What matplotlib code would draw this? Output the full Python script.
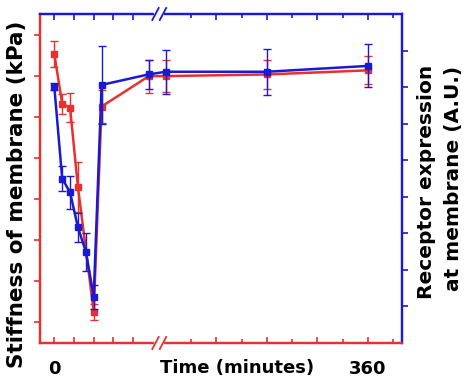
import numpy as np
import matplotlib
matplotlib.use('Agg')
import matplotlib.pyplot as plt
from matplotlib.ticker import FixedLocator, NullFormatter, FixedFormatter

######################
# Data (time in minutes)
t_red = [0, 2, 4, 6, 10, 12, 24, 120, 240, 360]
stiff = [7.03, 5.82, 5.72, 3.79, 0.76, 5.75, 6.49, 6.49, 6.53, 6.63]
stiff_err = [0.31, 0.24, 0.35, 0.60, 0.20, 0.41, 0.40, 0.38, 0.36, 0.34]

t_blue = [0, 2, 4, 6, 8, 10, 12, 24, 120, 240, 360]
receptor = [7.01, 4.50, 4.12, 3.16, 2.50, 1.27, 7.06, 7.35, 7.42, 7.42, 7.58]
receptor_err = [0.10, 0.34, 0.45, 0.40, 0.52, 0.33, 1.06, 0.40, 0.60, 0.63, 0.59]

x_ticks_left = [0, 5, 10, 15, 20]
x_ticks_right_major = [180, 240, 300, 360]
x_ticks_right_minor = [150, 210, 270, 330, 390]

RED = '#e8302f'
BLUE = '#1a1ad2'
plt.rcParams['font.family'] = ['DejaVu Sans']
plt.rcParams['font.weight'] = 'bold'

######################
# Broken time axis: 0-27 min stretched, 113-400 min compressed
a = 19.7 / 5.0
b = 50.5 / 60.0
B1, B2 = 26.8, 112.9
knots_x = np.array([-1000.0, B1, B2, 5000.0])
knots_p = np.array([-1000.0 * a, B1 * a, B1 * a + 0.01,
                    B1 * a + 0.01 + (5000.0 - B2) * b])


def fwd(x):
    return np.interp(x, knots_x, knots_p)


def inv(p):
    return np.interp(p, knots_p, knots_x)


fig = plt.figure(figsize=(4.74, 3.88), dpi=100)
ax = fig.add_axes([40 / 474, 45 / 388, 362 / 474, 329 / 388])
ax2 = ax.twinx()

ax.set_xscale('function', functions=(fwd, inv))
ax.set_xlim(-3.63, 400.4)
ax.set_ylim(0, 8)
ax2.set_ylim(0, 9)

# Stiffness (red, left axis)
ax.errorbar(t_red, stiff, yerr=stiff_err, fmt='-s', color=RED, lw=1.8,
            ms=4.5, elinewidth=1, capsize=3, capthick=1, clip_on=False)
# Receptor expression (blue, right axis)
ax2.errorbar(t_blue, receptor, yerr=receptor_err, fmt='-s', color=BLUE, lw=1.8,
             ms=4.5, elinewidth=1, capsize=3, capthick=1, clip_on=False)

# x ticks
ax.xaxis.set_major_locator(FixedLocator(x_ticks_left + x_ticks_right_major))
ax.xaxis.set_minor_locator(FixedLocator(x_ticks_right_minor))
labels = ['' for _ in x_ticks_left + x_ticks_right_major]
labels[0] = '0'
labels[-1] = '360'
ax.xaxis.set_major_formatter(FixedFormatter(labels))
ax.xaxis.set_minor_formatter(NullFormatter())
ax.tick_params(axis='x', which='both', direction='in', colors=RED,
               labelcolor='black', labelsize=13, pad=12, top=False)
ax.tick_params(axis='x', which='major', length=4.5, width=1.2)
ax.tick_params(axis='x', which='minor', length=3, width=1.2)
for lab in ax.get_xticklabels():
    lab.set_fontweight('bold')

# top ticks in blue through the twin axis
ax2.xaxis.set_visible(True)
ax2.tick_params(axis='x', which='both', direction='in', colors=BLUE,
                bottom=False, top=True, labelbottom=False, labeltop=False)
ax2.tick_params(axis='x', which='major', length=4.5, width=1.2)
ax2.tick_params(axis='x', which='minor', length=3, width=1.2)

# y ticks
ax.set_yticks(np.arange(0.5, 8, 1.0))
ax.tick_params(axis='y', direction='out', colors=RED, length=4, width=1.2,
               labelleft=False)
ax2.set_yticks(np.arange(1, 9, 1.0))
ax2.tick_params(axis='y', direction='out', colors=BLUE, length=4, width=1.2,
                labelright=False)

for axx in (ax, ax2):
    axx.spines['left'].set_color(RED)
    axx.spines['bottom'].set_color(RED)
    axx.spines['top'].set_color(BLUE)
    axx.spines['right'].set_color(BLUE)
    for s in axx.spines.values():
        s.set_linewidth(1.6)

# break marks
x1, x2 = (155.5 - 40) / 362, (163 - 40) / 362
dx, dy = 3.2 / 362, 6 / 329
for yb, col in ((0, RED), (1, BLUE)):
    ax2.plot([x1 + dx * 0.3, x2 - dx * 0.3], [yb, yb], color='white', lw=3,
             transform=ax.transAxes, clip_on=False, zorder=10)
    for xc in (x1, x2):
        ax2.plot([xc - dx, xc + dx], [yb - dy, yb + dy], color=col, lw=1.3,
                 transform=ax.transAxes, clip_on=False, zorder=11)

# labels
fig.text(17 / 474, 1 - 194 / 388, 'Stiffness of membrane (kPa)', rotation=90,
         ha='center', va='center', fontsize=15.5, fontweight='bold')
ax.set_xlabel('Time (minutes)', fontsize=13, fontweight='bold')
ax.xaxis.set_label_coords((237 - 40) / 362, -25 / 329)
ax.xaxis.label.set_va('center')

fig.text(426 / 474, 1 - 182 / 388, 'Receptor expression', rotation=90,
         ha='center', va='center', fontsize=14.5, fontweight='bold')
fig.text(453 / 474, 1 - 178 / 388, 'at membrane (A.U.)', rotation=90,
         ha='center', va='center', fontsize=14.5, fontweight='bold')

fig.savefig('out.png', dpi=100)
